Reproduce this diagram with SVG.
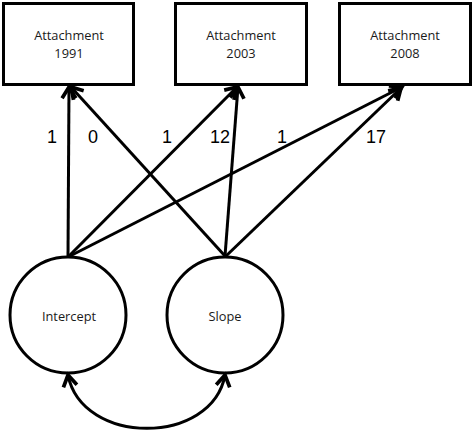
<svg xmlns="http://www.w3.org/2000/svg" width="474" height="432" viewBox="0 0 474 432">
<style>
.box{fill:#fff;stroke:#000;stroke-width:3}
.lat{fill:#fff;stroke:#000;stroke-width:3}
.lbl{font-family:"Open Sans",sans-serif;font-size:12.8px;fill:#1a1a1a;text-anchor:middle}
.num{font-family:"Liberation Sans",Arial,sans-serif;font-size:18px;fill:#000;text-anchor:middle}
.edge{fill:none;stroke:#000;stroke-width:3;marker-end:url(#arr)}
</style>
<defs>
<marker id="arr" markerUnits="userSpaceOnUse" markerWidth="20" markerHeight="20" viewBox="-12 -8 14 16" refX="0" refY="0" orient="auto">
<path d="M-9,-5.5 L0,0 L-9,5.5" fill="none" stroke="#000" stroke-width="3"/>
</marker>
</defs>
<rect width="474" height="432" fill="#fff"/>
<g id="a1991"><rect class="box" x="3.5" y="3.5" width="130" height="81"/><text class="lbl" x="69" y="40">Attachment</text><text class="lbl" x="69" y="58">1991</text></g>
<g id="a2003"><rect class="box" x="175.5" y="3.5" width="131" height="81"/><text class="lbl" x="241" y="40">Attachment</text><text class="lbl" x="241" y="58">2003</text></g>
<g id="a2008"><rect class="box" x="339.5" y="3.5" width="131" height="81"/><text class="lbl" x="405" y="40">Attachment</text><text class="lbl" x="405" y="58">2008</text></g>
<g id="intercept"><circle class="lat" cx="68" cy="315" r="58"/><text class="lbl" x="69" y="321">Intercept</text></g>
<g id="slope"><circle class="lat" cx="225" cy="315" r="58"/><text class="lbl" x="225" y="321">Slope</text></g>
<g id="connectors">
<path class="edge" d="M68,256 L69,87"/>
<path class="edge" d="M69,256 L237,87"/>
<path class="edge" d="M70,256 L402,87"/>
<path class="edge" d="M225,256 L71,87"/>
<path class="edge" d="M225,256 L238,87"/>
<path class="edge" d="M226,256 L401,88"/>
<path fill="none" stroke="#000" stroke-width="3" marker-start="url(#arrs)" marker-end="url(#arr)" d="M68,375 C82,446 212,446 225,375"/>
</g>
<defs>
<marker id="arrs" markerUnits="userSpaceOnUse" markerWidth="20" markerHeight="20" viewBox="-2 -8 14 16" refX="0" refY="0" orient="auto">
<path d="M9,-5.5 L0,0 L9,5.5" fill="none" stroke="#000" stroke-width="3"/>
</marker>
</defs>
<g id="labels">
<text class="num" x="52" y="143">1</text>
<text class="num" x="93" y="143">0</text>
<text class="num" x="167" y="143">1</text>
<text class="num" x="220" y="143">12</text>
<text class="num" x="282" y="143">1</text>
<text class="num" x="376" y="143">17</text>
</g>
</svg>
